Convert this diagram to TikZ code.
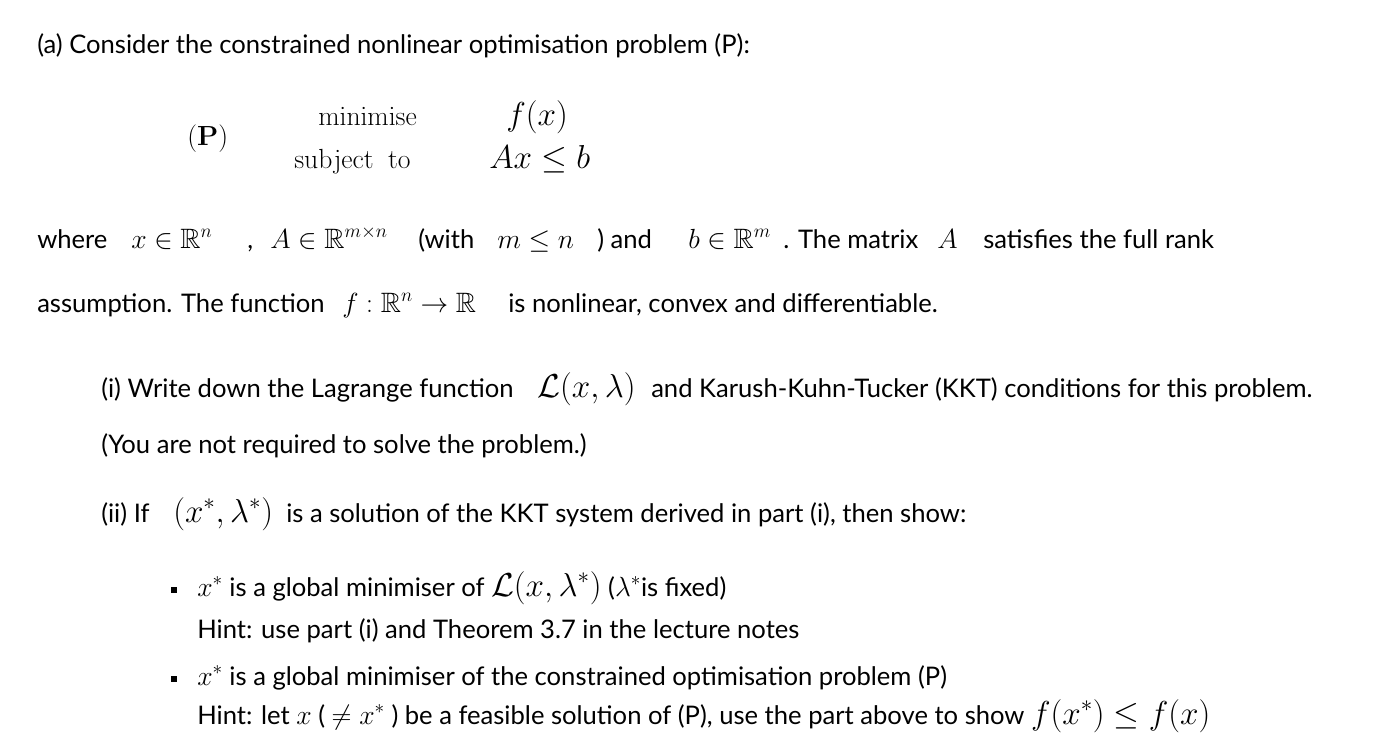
\documentclass[tikz,border=0pt]{standalone}
\usepackage{amsmath,amssymb}
\usepackage[no-math]{fontspec}
\setmainfont{Lato}
\begin{document}
\begin{tikzpicture}[x=0.75pt,y=-0.75pt,
  t/.style={anchor=base west,inner sep=0pt,font=\fontsize{19.2}{23}\selectfont},
  m/.style={anchor=base west,inner sep=0pt,font=\fontsize{21}{25}\selectfont},
  mb/.style={anchor=base west,inner sep=0pt,font=\fontsize{23}{27}\selectfont}]
\useasboundingbox (0,0) rectangle (1390,746);
\node[t] (a) at (37,53) {(a) Consider the constrained nonlinear optimisation problem (P):};
\node[m] (P) at (187,145) {$\mathbf{(P)}$};
\node[m] (mn) at (318,125) {$\mathrm{minimise}$};
\node[m] (st) at (294,168) {$\mathrm{subject\ \ to}$};
\node[mb] (fx) at (506,125) {$f(x)$};
\node[mb] (ax) at (489,168) {$Ax\le b$};
\node[t] (w1) at (37,248) {where};
\node[m] (w2) at (131,248) {$x\in\mathbb{R}^n$};
\node[t] (w3) at (247,248) {,};
\node[m] (w4) at (270,248) {$A\in\mathbb{R}^{m\times n}$};
\node[t] (w5) at (418,248) {(with};
\node[m] (w6) at (497,248) {$m\le n$};
\node[t] (w7) at (597,248) {) and};
\node[m] (w8) at (688,248) {$b\in\mathbb{R}^m$};
\node[t] (w9) at (783,248) {. The matrix};
\node[m] (w10) at (937,248) {$A$};
\node[t] (w11) at (983,248) {satisfies the full rank};
\node[t] (l1) at (37,312) {assumption. The function};
\node[m] (l2) at (342,312) {$f:\mathbb{R}^n\to\mathbb{R}$};
\node[t] (l3) at (508,312) {is nonlinear, convex and differentiable.};
\node[t] (i1) at (101,397) {(i) Write down the Lagrange function};
\node[mb] (i2) at (537,397) {$\mathcal{L}(x,\lambda)$};
\node[t] (i3) at (651,397) {and Karush-Kuhn-Tucker (KKT) conditions for this problem.};
\node[t] (i4) at (101,453) {(You are not required to solve the problem.)};
\node[t] (ii1) at (101,522) {(ii) If};
\node[mb] (ii2) at (173,522) {$(x^*,\lambda^*)$};
\node[t] (ii3) at (286,522) {is a solution of the KKT system derived in part (i), then show:};
\node[anchor=center,fill=black,minimum size=5pt,inner sep=0pt] (b1) at (174,590) {};
\node[t] (b1t) at (197,596) {{\fontsize{21}{25}\selectfont$x^*$} is a global minimiser of {\fontsize{23}{27}\selectfont$\mathcal{L}(x,\lambda^*)$} ({\fontsize{21}{25}\selectfont$\lambda^*$}is fixed)};
\node[t] (h1) at (197,638) {Hint: use part (i) and Theorem 3.7 in the lecture notes};
\node[anchor=center,fill=black,minimum size=5pt,inner sep=0pt] (b2) at (174,679) {};
\node[t] (b2t) at (197,685) {{\fontsize{21}{25}\selectfont$x^*$} is a global minimiser of the constrained optimisation problem (P)};
\node[t] (h2) at (197,724) {Hint: let {\fontsize{21}{25}\selectfont$x$} ( {\fontsize{21}{25}\selectfont$\neq x^*$} ) be a feasible solution of (P), use the part above to show {\fontsize{23}{27}\selectfont$f(x^*)\le f(x)$}};
\end{tikzpicture}
\end{document}
